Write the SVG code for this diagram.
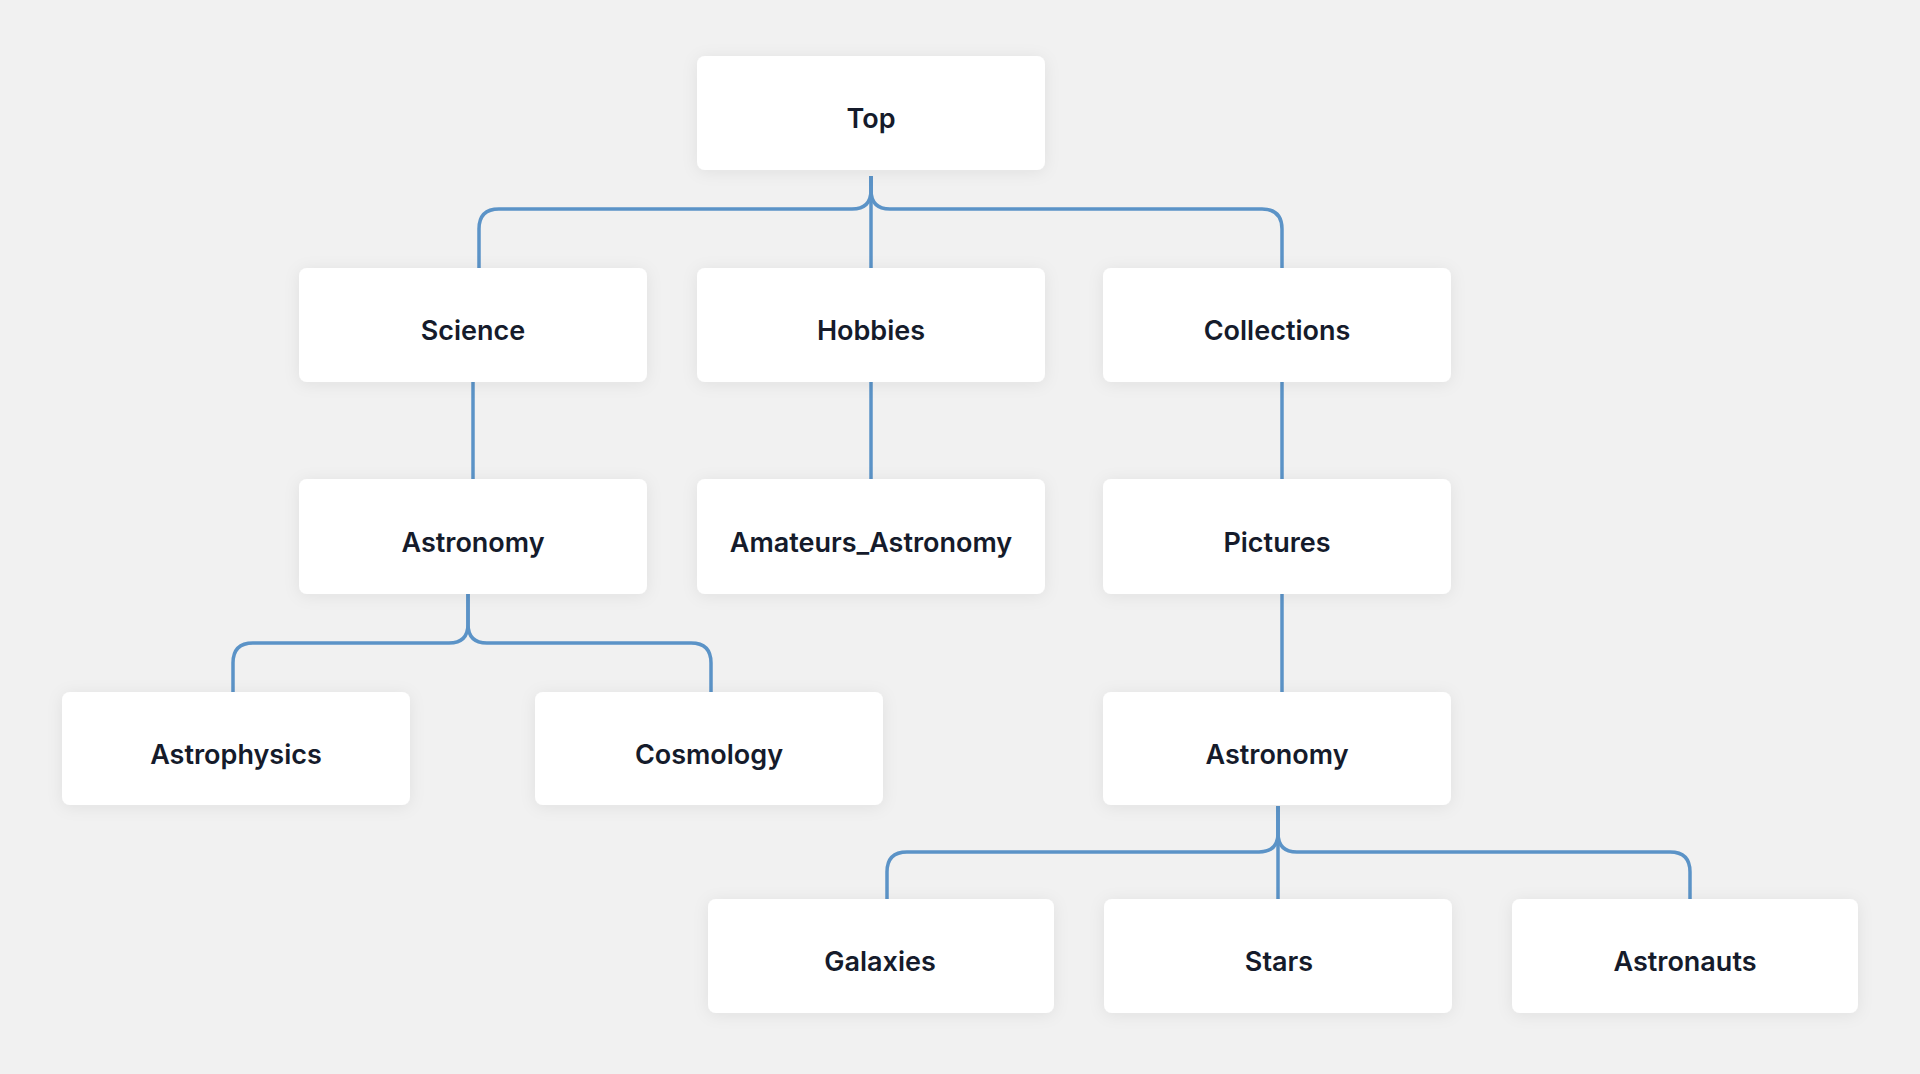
<svg xmlns="http://www.w3.org/2000/svg" width="1920" height="1074" viewBox="0 0 1920 1074">
<defs>
<filter id="sh" x="-20%" y="-30%" width="140%" height="160%"><feDropShadow dx="0" dy="2" stdDeviation="8" flood-color="#000" flood-opacity="0.07"/></filter>
<style>
.b{fill:#fff;filter:url(#sh)}
.t{font-family:Inter,"Noto Sans",sans-serif;font-weight:600;font-size:27px;fill:#151b2b;text-anchor:middle;dominant-baseline:central}
.c{fill:none;stroke:#5b93c7;stroke-width:3.5}
</style>
</defs>
<rect width="1920" height="1074" fill="#f1f1f1"/>
<g id="connectors">
<path class="c" d="M871 176V190Q871 209 852 209H499Q479 209 479 229V268"/>
<path class="c" d="M871 176V190Q871 209 890 209H1262Q1282 209 1282 229V268"/>
<path class="c" d="M871 176V268"/>
<path class="c" d="M473 382V479"/>
<path class="c" d="M871 382V479"/>
<path class="c" d="M1282 382V479"/>
<path class="c" d="M468 594V624Q468 643 449 643H253Q233 643 233 663V692"/>
<path class="c" d="M468 594V624Q468 643 487 643H691Q711 643 711 663V692"/>
<path class="c" d="M1282 594V692"/>
<path class="c" d="M1278 806V833Q1278 852 1259 852H907Q887 852 887 872V899"/>
<path class="c" d="M1278 806V833Q1278 852 1297 852H1670Q1690 852 1690 872V899"/>
<path class="c" d="M1278 806V899"/>
</g>
<g id="top"><rect class="b" x="697" y="56" width="348" height="114" rx="8"/><text class="t" x="871" y="118">Top</text></g>
<g id="science"><rect class="b" x="299" y="268" width="348" height="114" rx="8"/><text class="t" x="473" y="330">Science</text></g>
<g id="hobbies"><rect class="b" x="697" y="268" width="348" height="114" rx="8"/><text class="t" x="871" y="330">Hobbies</text></g>
<g id="collections"><rect class="b" x="1103" y="268" width="348" height="114" rx="8"/><text class="t" x="1277" y="330">Collections</text></g>
<g id="astronomy1"><rect class="b" x="299" y="479" width="348" height="115" rx="8"/><text class="t" x="473" y="542">Astronomy</text></g>
<g id="amateurs"><rect class="b" x="697" y="479" width="348" height="115" rx="8"/><text class="t" x="871" y="542">Amateurs_Astronomy</text></g>
<g id="pictures"><rect class="b" x="1103" y="479" width="348" height="115" rx="8"/><text class="t" x="1277" y="542">Pictures</text></g>
<g id="astrophysics"><rect class="b" x="62" y="692" width="348" height="113" rx="8"/><text class="t" x="236" y="754">Astrophysics</text></g>
<g id="cosmology"><rect class="b" x="535" y="692" width="348" height="113" rx="8"/><text class="t" x="709" y="754">Cosmology</text></g>
<g id="astronomy2"><rect class="b" x="1103" y="692" width="348" height="113" rx="8"/><text class="t" x="1277" y="754">Astronomy</text></g>
<g id="galaxies"><rect class="b" x="708" y="899" width="346" height="114" rx="8"/><text class="t" x="880" y="961">Galaxies</text></g>
<g id="stars"><rect class="b" x="1104" y="899" width="348" height="114" rx="8"/><text class="t" x="1279" y="961">Stars</text></g>
<g id="astronauts"><rect class="b" x="1512" y="899" width="346" height="114" rx="8"/><text class="t" x="1685" y="961">Astronauts</text></g>
</svg>
